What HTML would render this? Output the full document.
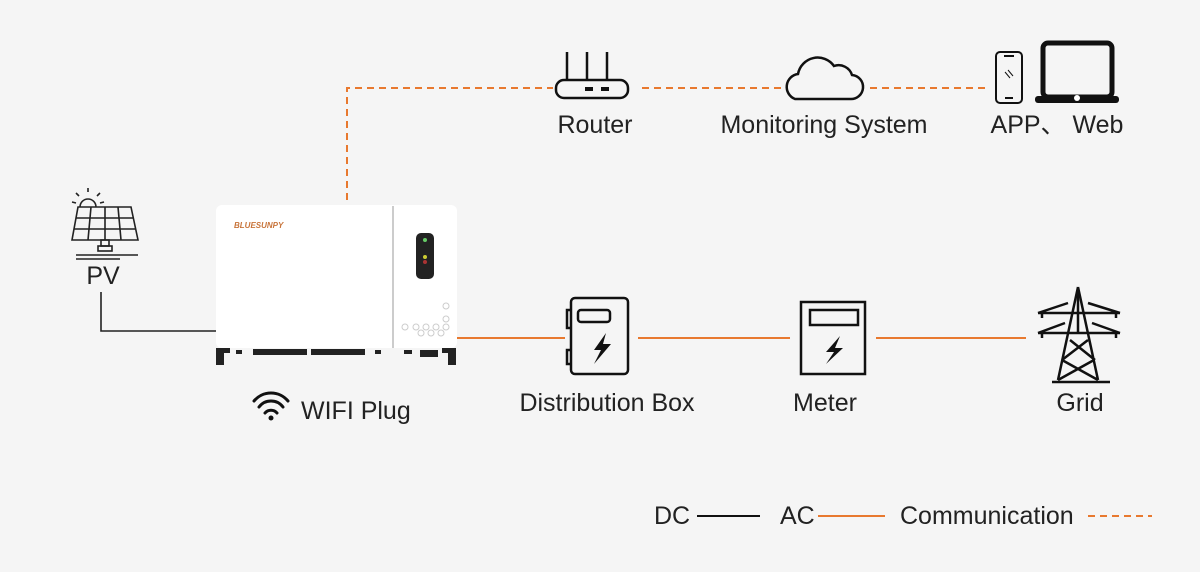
<!DOCTYPE html>
<html><head><meta charset="utf-8"><style>
html,body{margin:0;padding:0;background:#f5f5f5;}
svg{display:block}
text{font-family:"Liberation Sans",sans-serif;font-size:25px;fill:#222;}
</style></head><body>
<svg width="1200" height="572" viewBox="0 0 1200 572" xmlns="http://www.w3.org/2000/svg">
<rect width="1200" height="572" fill="#f5f5f5"/>
<!-- comm lines -->
<g stroke="#e8792f" stroke-width="2" stroke-dasharray="7,5" fill="none">
<path d="M347 200 V88 H553"/>
<path d="M642 88 H782"/>
<path d="M870 88 H988"/>
<path d="M1088 516 H1152"/>
</g>
<!-- router -->
<g stroke="#111" stroke-width="2.5" fill="none">
<line x1="567" y1="52" x2="567" y2="80"/><line x1="587" y1="52" x2="587" y2="80"/><line x1="607" y1="52" x2="607" y2="80"/>
<rect x="556" y="80" width="72" height="18" rx="8"/>
</g>
<rect x="585" y="87" width="8" height="4" fill="#111"/><rect x="601" y="87" width="8" height="4" fill="#111"/>
<!-- cloud -->
<path d="M795 99 H850 A12 12 0 0 0 852 75 A14 14 0 0 0 834 66 A20 20 0 0 0 798 74 A13 13 0 0 0 795 99 Z" fill="none" stroke="#111" stroke-width="2.5"/>
<!-- phone -->
<rect x="996" y="52" width="26" height="51" rx="4" fill="none" stroke="#111" stroke-width="2"/>
<line x1="1004" y1="56" x2="1014" y2="56" stroke="#111" stroke-width="2"/>
<line x1="1005" y1="98" x2="1013" y2="98" stroke="#111" stroke-width="2"/>
<line x1="1005" y1="72" x2="1010" y2="78" stroke="#111" stroke-width="1"/><line x1="1008" y1="70" x2="1013" y2="76" stroke="#111" stroke-width="1"/>
<!-- laptop -->
<rect x="1043" y="43" width="69" height="54" rx="5" fill="none" stroke="#111" stroke-width="5"/>
<rect x="1035" y="96" width="84" height="7" rx="3" fill="#111"/>
<circle cx="1077" cy="98" r="3" fill="#fff"/>
<text x="595" y="133" text-anchor="middle">Router</text>
<text x="824" y="133" text-anchor="middle">Monitoring System</text>
<text x="1057" y="133" text-anchor="middle" style="font-family:'Liberation Sans','Noto Sans CJK SC',sans-serif">APP、 Web</text>
<!-- PV -->
<g stroke="#222" stroke-width="1.6" fill="none">
<path d="M80 207 A8 8 0 0 1 96 207"/>
<line x1="88" y1="188" x2="88" y2="192"/><line x1="76" y1="193" x2="79" y2="196"/><line x1="100" y1="193" x2="97" y2="196"/><line x1="72" y1="202" x2="76" y2="203"/><line x1="104" y1="202" x2="100" y2="203"/>
<path d="M78 207 H131 L138 240 H72 Z"/>
<line x1="76" y1="218" x2="134" y2="218"/><line x1="74" y1="229" x2="136" y2="229"/>
<line x1="91" y1="207" x2="88" y2="240"/><line x1="105" y1="207" x2="105" y2="240"/><line x1="118" y1="207" x2="121" y2="240"/>
<rect x="101" y="240" width="8" height="6"/><rect x="98" y="246" width="14" height="5"/>
<line x1="76" y1="255" x2="138" y2="255"/><line x1="76" y1="259" x2="120" y2="259"/>
</g>
<text x="103" y="284" text-anchor="middle">PV</text>
<path d="M101 292 V331 H218" stroke="#222" stroke-width="1.6" fill="none"/>
<!-- inverter -->
<rect x="216" y="205" width="241" height="143" rx="6" fill="#fff"/>
<line x1="393" y1="206" x2="393" y2="348" stroke="#bbb" stroke-width="1.5"/>
<text x="234" y="228" style="font-size:8px;font-weight:bold;font-style:italic;fill:#c8743a">BLUESUNPY</text>
<rect x="416" y="233" width="18" height="46" rx="5" fill="#222"/>
<circle cx="425" cy="240" r="2" fill="#6c6"/><circle cx="425" cy="257" r="2" fill="#cc3"/><circle cx="425" cy="262" r="2" fill="#a33"/>
<g fill="none" stroke="#ccc" stroke-width="1"><circle cx="446" cy="306" r="3"/><circle cx="405" cy="327" r="3"/><circle cx="416" cy="327" r="3"/><circle cx="426" cy="327" r="3"/><circle cx="436" cy="327" r="3"/><circle cx="446" cy="327" r="3"/><circle cx="421" cy="333" r="3"/><circle cx="431" cy="333" r="3"/><circle cx="441" cy="333" r="3"/><circle cx="446" cy="319" r="3"/></g>
<g fill="#222">
<rect x="216" y="348" width="8" height="17"/><rect x="216" y="348" width="14" height="5"/>
<rect x="448" y="348" width="8" height="17"/><rect x="442" y="348" width="14" height="5"/>
<rect x="236" y="350" width="6" height="4"/>
<rect x="253" y="349" width="54" height="6"/><rect x="311" y="349" width="54" height="6"/>
<rect x="375" y="350" width="6" height="4"/><rect x="404" y="350" width="8" height="4"/><rect x="420" y="350" width="18" height="7"/>
</g>
<!-- wifi -->
<g fill="none" stroke="#111" stroke-width="3" stroke-linecap="round">
<path d="M254 401 A22 22 0 0 1 288 401"/><path d="M259 407 A15 15 0 0 1 283 407"/><path d="M265 413 A8 8 0 0 1 277 413"/>
</g>
<circle cx="271" cy="418" r="2.5" fill="#111"/>
<text x="301" y="419">WIFI Plug</text>
<!-- AC line -->
<g stroke="#e8792f" stroke-width="2"><line x1="457" y1="338" x2="565" y2="338"/><line x1="638" y1="338" x2="790" y2="338"/><line x1="876" y1="338" x2="1026" y2="338"/><line x1="818" y1="516" x2="885" y2="516"/></g>
<line x1="697" y1="516" x2="760" y2="516" stroke="#111" stroke-width="2"/>
<!-- distribution box -->
<g fill="none" stroke="#111" stroke-width="2.5">
<rect x="571" y="298" width="57" height="76" rx="4"/>
<rect x="578" y="310" width="32" height="12" rx="3"/>
<path d="M571 310 h-4 v18 h4 M571 350 h-4 v14 h4"/>
<rect x="769" y="302" width="0" height="0"/>
<rect x="801" y="302" width="64" height="72"/>
<rect x="810" y="310" width="48" height="15"/>
</g>
<path d="M606 333 L594 350 H601 L594 364 L611 344 H603 Z" fill="#111"/>
<path d="M840 336 L826 352 H834 L826 364 L843 348 H835 Z" fill="#111"/>
<!-- tower -->
<g fill="none" stroke="#111" stroke-width="2.5">
<path d="M1078 287 L1058 380 M1078 287 L1098 380 M1052 382 H1110"/>
<path d="M1038 313 L1068 303 M1038 313 H1120 M1088 303 L1120 313 M1038 333 L1065 323 M1038 333 H1120 M1092 323 L1120 333"/>
<path d="M1042 313 v5 M1116 313 v5 M1042 333 v5 M1116 333 v5"/>
<path d="M1078 290 V332 M1070 340 L1095 360 M1088 340 L1062 360 M1062 360 L1098 380 M1094 360 L1058 380"/>
</g>
<text x="607" y="411" text-anchor="middle">Distribution Box</text>
<text x="825" y="411" text-anchor="middle">Meter</text>
<text x="1080" y="411" text-anchor="middle">Grid</text>
<!-- legend -->
<text x="654" y="524">DC</text>
<text x="780" y="524">AC</text>
<text x="900" y="524">Communication</text>
</svg>
</body></html>
